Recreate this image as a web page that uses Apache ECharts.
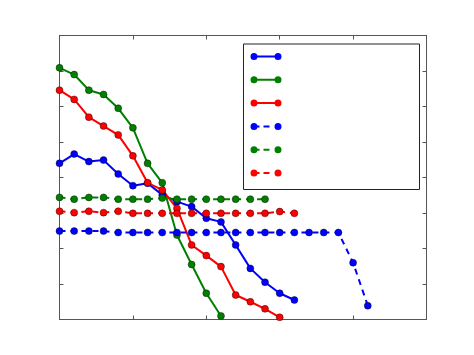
<!DOCTYPE html>
<html>
<head>
<meta charset="utf-8">
<script src="https://cdn.jsdelivr.net/npm/echarts@6/dist/echarts.min.js"></script>
<style>html,body{margin:0;padding:0;background:#fff;}#c{width:474px;height:355px;}</style>
</head>
<body>
<div id="c"></div>
<script>
// Series values (x = point index 0,1,2,...)
const blueSolid  = [4.40, 4.66, 4.45, 4.49, 4.10, 3.77, 3.84, 3.51, 3.32, 3.18, 2.85, 2.75, 2.10, 1.44, 1.05, 0.74, 0.55];
const greenSolid = [7.09, 6.90, 6.46, 6.34, 5.95, 5.40, 4.40, 3.85, 2.38, 1.55, 0.74, 0.10];
const redSolid   = [6.46, 6.20, 5.70, 5.45, 5.20, 4.61, 3.85, 3.65, 3.13, 2.10, 1.80, 1.49, 0.69, 0.50, 0.30, 0.06];
const blueDashed = [2.49, 2.49, 2.49, 2.49, 2.45, 2.45, 2.45, 2.45, 2.45, 2.45, 2.45, 2.45, 2.45, 2.45, 2.45, 2.45, 2.45, 2.45, 2.45, 2.45, 1.60, 0.39];
const greenDashed= [3.44, 3.39, 3.44, 3.44, 3.39, 3.39, 3.39, 3.42, 3.39, 3.39, 3.39, 3.39, 3.39, 3.39, 3.39];
const redDashed  = [3.05, 3.01, 3.05, 3.01, 3.05, 2.99, 2.99, 2.99, 2.99, 2.99, 2.99, 2.99, 2.99, 2.99, 2.99, 3.04, 2.99];
const seriesNames = ['s1', 's2', 's3', 's4', 's5', 's6'];

const solidIcon = 'path://M0,3.5A3.5,3.5,0,1,1,7,3.5A3.5,3.5,0,1,1,0,3.5Z M3.5,2.5L27.5,2.5L27.5,4.5L3.5,4.5Z M24,3.5A3.5,3.5,0,1,1,31,3.5A3.5,3.5,0,1,1,24,3.5Z';
const dashIcon  = 'path://M0,3.5A3.5,3.5,0,1,1,7,3.5A3.5,3.5,0,1,1,0,3.5Z M3.5,2.5L9,2.5L9,4.5L3.5,4.5Z M13,2.5L19,2.5L19,4.5L13,4.5Z M24,3.5A3.5,3.5,0,1,1,31,3.5A3.5,3.5,0,1,1,24,3.5Z';

function pts(arr){ return arr.map((v,i)=>[i,v]); }
function mk(name, arr, color, dashed){
  return {
    name: name, type: 'line', data: pts(arr),
    symbol: 'circle', symbolSize: 7, showAllSymbol: true,
    lineStyle: {color: color, width: 2, type: dashed ? [6,5] : 'solid'},
    itemStyle: {color: color, borderColor: '#000', borderWidth: 0.4},
    emphasis: {disabled: true}, animation: false
  };
}
const axisLine = {show: true, onZero: false, lineStyle: {color: '#555', width: 1}};
const tick = {show: true, inside: true, length: 4, lineStyle: {color: '#555'}};

const chart = echarts.init(document.getElementById('c'), null, {renderer: 'canvas'});
chart.setOption({
  animation: false,
  backgroundColor: '#fff',
  grid: {left: 59.5, top: 35.5, right: 47.5, bottom: 35.5, show: false},
  xAxis: [
    {type: 'value', min: 0, max: 25, interval: 5, position: 'bottom', axisLine: axisLine, axisTick: tick, axisLabel: {show: false}, splitLine: {show: false}},
    {type: 'value', min: 0, max: 25, interval: 5, position: 'top', axisLine: axisLine, axisTick: tick, axisLabel: {show: false}, splitLine: {show: false}}
  ],
  yAxis: [
    {type: 'value', min: 0, max: 8, interval: 1, position: 'left', axisLine: axisLine, axisTick: tick, axisLabel: {show: false}, splitLine: {show: false}},
    {type: 'value', min: 0, max: 8, interval: 1, position: 'right', axisLine: axisLine, axisTick: tick, axisLabel: {show: false}, splitLine: {show: false}}
  ],
  legend: {
    orient: 'vertical', left: 243.5, top: 44,
    padding: [9, 138, 13, 7],
    itemWidth: 31, itemHeight: 7, itemGap: 16.3,
    borderColor: '#222', borderWidth: 1, backgroundColor: '#fff',
    formatter: function(){ return ''; },
    itemStyle: {borderWidth: 0},
    lineStyle: {width: 0},
    selectedMode: false,
    data: [
      {name: seriesNames[0], icon: solidIcon},
      {name: seriesNames[1], icon: solidIcon},
      {name: seriesNames[2], icon: solidIcon},
      {name: seriesNames[3], icon: dashIcon},
      {name: seriesNames[4], icon: dashIcon},
      {name: seriesNames[5], icon: dashIcon}
    ]
  },
  series: [
    mk(seriesNames[0], blueSolid, '#0000ff', false),
    mk(seriesNames[1], greenSolid, '#008000', false),
    mk(seriesNames[2], redSolid, '#ff0000', false),
    mk(seriesNames[3], blueDashed, '#0000ff', true),
    mk(seriesNames[4], greenDashed, '#008000', true),
    mk(seriesNames[5], redDashed, '#ff0000', true)
  ]
});
</script>
</body>
</html>
